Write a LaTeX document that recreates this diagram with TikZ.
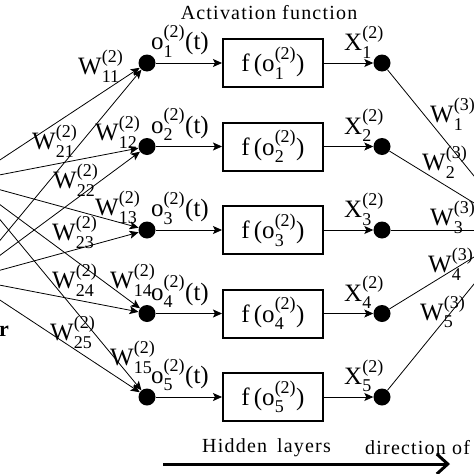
\documentclass[tikz,border=0pt]{standalone}
\usepackage{amsmath}
\usepackage{fontspec}
\setmainfont{Liberation Serif}
\usetikzlibrary{arrows.meta}
\DeclareMathSizes{25}{25}{18}{13}
\newcommand{\wl}[2]{$\text{W}^{\text{(#2)}}_{\text{#1}}$}
\newcommand{\ol}[1]{$\text{o}^{\text{(2)}}_{\text{#1}}\text{(t)}$}
\newcommand{\xl}[1]{$\text{X}^{\text{(2)}}_{\text{#1}}$}
\newcommand{\fl}[1]{$\text{f\,(o}^{\text{(2)}}_{\text{#1}}\text{)}$}
\begin{document}
\begin{tikzpicture}[x=1pt,y=-1pt,
  thinline/.style={line width=0.8pt},
  arr/.style={line width=0.8pt,-{Stealth[length=9pt,width=8pt,inset=2pt]}},
  dot/.style={circle,fill=black,minimum size=17pt,inner sep=0pt},
  actbox/.style={draw,line width=2pt,minimum width=100pt,minimum height=48pt,inner sep=0pt,font=\fontsize{25}{29}\selectfont},
  lab/.style={inner sep=0pt,anchor=west,font=\fontsize{25}{29}\selectfont},
  big/.style={inner sep=0pt,font=\fontsize{20}{24}\selectfont\addfontfeature{LetterSpace=6}}]
\useasboundingbox (0,0) rectangle (474,474);
\clip (0,0) rectangle (474,474);
% inputs and output (off-screen)
\coordinate (in1) at (-32,181);
\coordinate (in2) at (-32,279);
\coordinate (out) at (518,230);
% hidden layer
\foreach \i/\y in {1/63,2/146.5,3/230,4/313.5,5/397}{
  \node[dot] (h\i) at (147,\y) {};
  \node[actbox] (b\i) at (273,\y) {\fl{\i}};
  \node[dot] (x\i) at (382,\y) {};
  \draw[arr] (h\i) -- (b\i);
  \draw[arr] (b\i) -- (x\i);
  \draw[thinline] (x\i) -- (out);
  \draw[arr] (in1) -- (h\i);
  \draw[arr] (in2) -- (h\i);
  \node[lab] (o\i) at (151,\y-22) {\ol{\i}};
  \node[lab] (xl\i) at (344,\y-21) {\xl{\i}};
}
% weight labels, layer 2
\node[lab] (w11) at (78,66) {\wl{11}{2}};
\node[lab] (w21) at (32,141) {\wl{21}{2}};
\node[lab] (w12) at (95,132) {\wl{12}{2}};
\node[lab] (w22) at (53,180) {\wl{22}{2}};
\node[lab] (w13) at (95,207) {\wl{13}{2}};
\node[lab] (w23) at (52,232) {\wl{23}{2}};
\node[lab] (w24) at (52,280) {\wl{24}{2}};
\node[lab] (w14) at (110,280) {\wl{14}{2}};
\node[lab] (w25) at (50,332) {\wl{25}{2}};
\node[lab] (w15) at (110,357) {\wl{15}{2}};
% weight labels, layer 3
\node[lab] (v1) at (430,114) {\wl{1}{3}};
\node[lab] (v2) at (422,162) {\wl{2}{3}};
\node[lab] (v3) at (430,217) {\wl{3}{3}};
\node[lab] (v4) at (428,264) {\wl{4}{3}};
\node[lab] (v5) at (420,312) {\wl{5}{3}};
% texts
\node[big] (act) at (269,13) {Activation function};
\node[big,anchor=west] (hid) at (202,448) {Hidden\hspace{0.5em}layers};
\node[big,anchor=west] (dir) at (365,448) {direction of};
\node[inner sep=0pt,anchor=west,font=\bfseries\fontsize{22}{26}\selectfont] (rr) at (-1,331) {r};
% direction arrow
\coordinate (a0) at (163,464);
\coordinate (a1) at (450,464);
\draw[line width=3pt,-{Straight Barb[length=11pt,width=20pt]}] (a0) -- (a1);
\end{tikzpicture}
\end{document}
